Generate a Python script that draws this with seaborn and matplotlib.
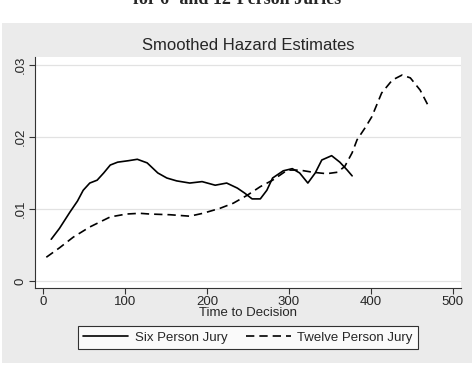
import matplotlib
matplotlib.use("Agg")
import matplotlib.pyplot as plt
import seaborn as sns
import pandas as pd
from matplotlib.patches import Rectangle
from matplotlib.lines import Line2D

six_t = [10, 20, 33, 42, 49, 57, 66, 74, 82, 91, 104, 115, 127, 140, 151, 163, 179, 194,
         210, 224, 237, 246, 255, 265, 273, 280, 293, 304, 313, 323, 332, 340, 352, 362, 371, 377]
six_v = [0.0058, 0.0073, 0.0096, 0.0111, 0.0126, 0.0136, 0.0140, 0.0150, 0.0161, 0.0165,
         0.0167, 0.0169, 0.0164, 0.0150, 0.0143, 0.0139, 0.0136, 0.0138, 0.0133, 0.0136,
         0.0129, 0.0122, 0.0114, 0.0114, 0.0126, 0.0143, 0.0153, 0.0156, 0.0150, 0.0136,
         0.0150, 0.0168, 0.0174, 0.0165, 0.0154, 0.0146]

twelve_t = [4, 20, 37, 57, 82, 102, 118, 130, 155, 179, 195, 216, 232, 249, 265, 280, 298,
            313, 329, 346, 359, 368, 377, 383, 393, 401, 413, 426, 438, 448, 460, 470]
twelve_v = [0.0033, 0.0046, 0.0061, 0.0075, 0.0089, 0.0093, 0.0094, 0.0093, 0.0092, 0.0090,
            0.0094, 0.0101, 0.0108, 0.0119, 0.0131, 0.0140, 0.0154, 0.0154, 0.0151, 0.0149,
            0.0151, 0.0159, 0.0178, 0.0196, 0.0213, 0.0228, 0.0261, 0.0279, 0.0286, 0.0282,
            0.0265, 0.0243]

x_ticks = [0, 100, 200, 300, 400, 500]
y_ticks = [0, 0.01, 0.02, 0.03]
y_tick_labels = ["0", ".01", ".02", ".03"]
labels = ["Six Person Jury", "Twelve Person Jury"]

df = pd.concat([
    pd.DataFrame({"t": six_t, "h": six_v, "jury": labels[0]}),
    pd.DataFrame({"t": twelve_t, "h": twelve_v, "jury": labels[1]}),
])

sns.set_style("white")
plt.rcParams["font.family"] = ["Liberation Sans", "DejaVu Sans"]

W, H = 474, 366
fig = plt.figure(figsize=(W / 100, H / 100), dpi=100)
fig.patch.set_facecolor("white")
fig.add_artist(Rectangle((2 / W, 1 - 363 / H), 470 / W, 340 / H, transform=fig.transFigure,
                         facecolor="#EBEBEB", edgecolor="none", zorder=-10))

ax = fig.add_axes([35 / W, 1 - 288 / H, 426 / W, 231 / H])
ax.set_facecolor("white")

sns.lineplot(data=df, x="t", y="h", style="jury", color="black", linewidth=1.2,
             dashes={labels[0]: "", labels[1]: (5, 3)}, sort=False, estimator=None, ax=ax,
             legend=False)

ax.set_xlim(-9.8, 509.8)
ax.set_ylim(-0.00097, 0.0311)
ax.set_xticks(x_ticks)
ax.set_xticklabels([str(v) for v in x_ticks], fontsize=9.5)
ax.set_yticks(y_ticks)
ax.set_yticklabels(y_tick_labels, fontsize=9.5, rotation=90, va="center")
ax.tick_params(axis="both", direction="out", length=4, width=0.8, color="#333333", pad=2,
               left=True, bottom=True)
ax.yaxis.grid(True, color="#E2E2E2", linewidth=0.9)
ax.xaxis.grid(False)
for s in ["top", "right"]:
    ax.spines[s].set_visible(False)
for s in ["left", "bottom"]:
    ax.spines[s].set_color("#333333")
    ax.spines[s].set_linewidth(0.8)
ax.set_xlabel("Time to Decision", fontsize=9.5, labelpad=-1)
ax.set_ylabel("")

fig.text(248 / W, 1 - 46 / H, "Smoothed Hazard Estimates", ha="center", va="center",
         fontsize=12)
fig.text(237 / W, 1 - 4.5 / H, "for 6- and 12-Person Juries", ha="center", va="baseline",
         fontsize=13, fontweight="bold", family=["Liberation Serif", "DejaVu Serif"])

handles = [Line2D([], [], color="black", lw=1.2),
           Line2D([], [], color="black", lw=1.2, linestyle=(0, (5, 3)))]
leg = fig.legend(handles, labels, loc="center", bbox_to_anchor=(248 / W, 1 - 337.5 / H),
                 bbox_transform=fig.transFigure, ncol=2, fontsize=9.5, frameon=True,
                 fancybox=False, edgecolor="black", handlelength=3.4, handletextpad=0.5,
                 columnspacing=1.4, borderpad=0.4)
leg.get_frame().set_linewidth(0.8)
leg.get_frame().set_facecolor("white")

fig.savefig("out.png", dpi=100)
